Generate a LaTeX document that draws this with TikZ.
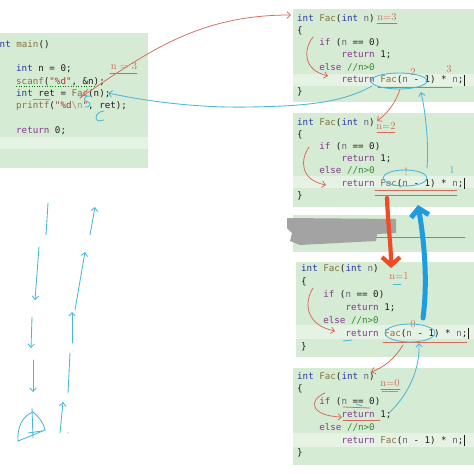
\documentclass[tikz,border=0pt]{standalone}
\usepackage{fontspec}
\usetikzlibrary{arrows.meta}
\newfontfamily\codefont{DejaVu Sans Mono}
\definecolor{boxg}{HTML}{D6EBD3}
\definecolor{bandg}{HTML}{E6F3E4}
\definecolor{kint}{HTML}{2B38A0}
\definecolor{kctl}{HTML}{823A8E}
\definecolor{fnc}{HTML}{857248}
\definecolor{prm}{HTML}{686878}
\definecolor{txt}{HTML}{1E1E1E}
\definecolor{cmt}{HTML}{3A853A}
\definecolor{strc}{HTML}{A33B35}
\definecolor{esc}{HTML}{9A9A7A}
\definecolor{pen}{HTML}{D46A5C}
\definecolor{cy}{HTML}{4CB6D6}
\definecolor{thr}{HTML}{EE4B26}
\definecolor{thb}{HTML}{1E9CE0}
\definecolor{scrib}{HTML}{A3A3A3}
\newcommand\Kt[1]{\textcolor{kint}{#1}}
\newcommand\Kc[1]{\textcolor{kctl}{#1}}
\newcommand\Fn[1]{\textcolor{fnc}{#1}}
\newcommand\Pn[1]{\textcolor{prm}{#1}}
\newcommand\Cm[1]{\textcolor{cmt}{#1}}
\newcommand\Sq[1]{\textcolor{strc}{#1}}
\newcommand\Es[1]{\textcolor{esc}{#1}}
\newcommand\cwd{5.54}
\tikzset{
  code/.style={anchor=base west, inner sep=0pt, font=\codefont\fontsize{9.2}{11}\selectfont, text=txt},
  hand/.style={inner sep=0pt, font=\fontsize{10.5}{11}\selectfont},
  penline/.style={pen, line width=0.75, line cap=round},
  cyline/.style={cy, line width=0.85, line cap=round},
  barb/.style={-{Straight Barb[length=3.5pt,width=6.5pt]}},
}
\newcommand\facbox[4]{%
 \node[code] (#4a) at ({#1},{#2+3}) {\Kt{int} \Fn{Fac}(\Kt{int} \Pn{n})};
 \node[code] (#4b) at ({#1},{#2+#3+3}) {\{};
 \node[code] (#4c) at ({#1+4*\cwd},{#2+2*#3+3}) {\Kc{if} (\Pn{n} == 0)};
 \node[code] (#4d) at ({#1+8*\cwd},{#2+3*#3+3}) {\Kc{return} 1;};
 \node[code] (#4e) at ({#1+4*\cwd},{#2+4*#3+3}) {\Kc{else} \Cm{//n>0}};
 \node[code] (#4f) at ({#1+8*\cwd},{#2+5*#3+3}) {\Kc{return} \Fn{Fac}(\Pn{n} - 1) * \Pn{n};};
 \node[code] (#4g) at ({#1},{#2+6*#3+3}) {\}};
 \draw[txt, line width=0.6] ({#1+30*\cwd+1},{#2+5*#3-5}) -- ++(0,11);
}
\begin{document}
\begin{tikzpicture}[x=1pt,y=-1pt]
\useasboundingbox (0,0) rectangle (474,474);
\clip (0,0) rectangle (474,474);
\fill[white] (0,0) rectangle (474,474);
% ---------- main box
\fill[boxg] (0,33) rectangle (148,168);
\fill[bandg] (0,137) rectangle (148,149);
\node[code] (m0) at (-6,47) {\Kt{int} \Fn{main}()};
\node[code] (m2) at (16,71) {\Kt{int} n = 0;};
\node[code] (m3) at (16,84) {\Fn{scanf}(\Sq{"\%d"}, \&n);};
\node[code] (m4) at (16,96) {\Kt{int} ret = \Fn{Fac}(n);};
\node[code] (m5) at (16,108) {\Fn{printf}(\Sq{"\%d}\Es{\textbackslash n}\Sq{"}, ret);};
\node[code] (m6) at (16,133) {\Kc{return} 0;};
\draw[green!50!black, dotted, line width=0.6] (16,86.5) -- (96,86.5);
% ---------- Fac boxes
\fill[boxg] (293,9) rectangle (474,102);
\fill[bandg] (293,74) rectangle (474,86);
\facbox{297}{18}{12.3}{fa}
\fill[boxg] (293,113) rectangle (474,207);
\fill[bandg] (293,176) rectangle (474,188);
\facbox{297}{122}{12.2}{fb}
\fill[boxg] (293,215) rectangle (474,252);
\fill[scrib] (287,218) -- (396,219) -- (396,233) -- (377,234) -- (376,241) -- (300,245) -- (290,241) -- (292,233) -- (287,228) -- cycle;
\draw[penline, line width=0.5] (376,237) -- (465,237);
\fill[boxg] (296,262) rectangle (474,357);
\fill[bandg] (296,325) rectangle (474,339);
\facbox{301}{268}{13}{fc}
\fill[boxg] (293,368) rectangle (474,465);
\fill[bandg] (293,433) rectangle (474,447);
\facbox{297}{376}{12.8}{fd}
% ---------- n = k labels
\node[hand, text=pen] (l3) at (124,66) {n = 3};
\draw[penline] (110,73) -- (137,73);
\node[hand, text=pen] (l3b) at (387,17) {n=3};
\draw[penline] (377,23.5) -- (397,23.5);
\node[hand, text=pen] (l2) at (386,126) {n=2};
\draw[penline] (377,132) -- (395,132);
\node[hand, text=pen] (l1) at (399,276) {n=1};
\draw[cyline] (393,284) -- (401,284);
\node[hand, text=pen] (l0) at (390,383) {n=0};
\draw[penline] (381,389) -- (400,389);
\draw[cyline] (382,391) -- (398,391);
% small digits
\node[hand, text=pen] (d2) at (413,72) {2};
\node[hand, text=pen] (d3) at (449,69) {3};
\node[hand, text=pen] (d1) at (406,172) {!};
\node[hand, text=cy] (d1b) at (452,170) {1};
\node[hand, text=pen] (d0) at (413,324) {0};
% underlines
\draw[penline] (378,87.5) -- (452,87.5);
\draw[penline] (375,190) -- (457,190);
\draw[penline] (375,195) -- (457,195);
\draw[penline] (383,342) -- (467,342);
\draw[penline] (343,407) -- (370,408);
\draw[penline] (343,420) -- (380,420);
\draw[cyline] (33,99) -- (50,99);
\draw[cyline] (343,341) -- (352,340);
\draw[cyline] (356,404) -- (362,406);
% in-box red curved arrows
\draw[penline, barb] (313,37) .. controls (303,50) and (303,70) .. (328,76);
\draw[penline, barb] (309,147) .. controls (300,160) and (300,180) .. (326,185);
\draw[penline, barb] (313,288) .. controls (304,302) and (305,325) .. (335,331);
\draw[penline, barb] (325,393) .. controls (308,400) and (310,416) .. (342,417);
% ---------- connectors
\coordinate (cA) at (80,98);
\coordinate (cB) at (291,15);
\draw[penline, barb] (cA) .. controls (150,50) and (200,15) .. (cB);
\draw[cyline] (399,81) ellipse [x radius=28pt, y radius=8pt];
\coordinate (cC) at (372,86);
\coordinate (cD) at (108,93);
\draw[cyline, barb] (cC) .. controls (340,104) and (300,106) .. (250,107) .. controls (200,108) and (150,102) .. (cD);
\draw[cyline] (405,178) ellipse [x radius=22pt, y radius=8pt];
\coordinate (cE) at (427,168);
\coordinate (cF) at (421,92);
\draw[cyline, barb] (cE) .. controls (429,140) and (425,110) .. (cF);
\coordinate (cG) at (400,89);
\coordinate (cH) at (377,121);
\draw[penline, barb] (cG) .. controls (396,102) and (388,113) .. (cH);
\coordinate (cI) at (387,198);
\coordinate (cJ) at (391,268);
\draw[thr, line width=4.2, line cap=round, -{Straight Barb[length=8pt,width=18pt]}] (cI) .. controls (388,225) and (391,245) .. (cJ);
\draw[cyline] (410,333) ellipse [x radius=25pt, y radius=9pt];
\coordinate (cK) at (423,318);
\coordinate (cL) at (418,205);
\draw[thb, line width=5, line cap=round, -{Straight Barb[length=8pt,width=18pt]}] (cK) .. controls (428,280) and (424,240) .. (cL);
\coordinate (cM) at (403,345);
\coordinate (cN) at (371,372);
\draw[penline, barb] (cM) .. controls (395,358) and (385,367) .. (cN);
\coordinate (cO) at (389,413);
\coordinate (cP) at (419,343);
\draw[cyline, barb] (cO) .. controls (408,395) and (420,370) .. (cP);
% small cyan squiggles in main
\draw[cyline] (90,96) .. controls (84,95) and (82,101) .. (88,102) .. controls (92,103) and (90,108) .. (85,107);
\draw[cyline] (104,111) .. controls (96,112) and (94,118) .. (98,121) -- (104,120);
\draw[penline] (80,98) -- (88,89);
% ---------- left scribbles
\draw[cyline] (48,203) -- (46,235);
\draw[cyline, barb] (39,247) -- (35,300);
\draw[cyline, barb] (32,317) -- (31,348);
\draw[cyline, barb] (33,360) -- (33,392);
\draw[cyline] (18,441) .. controls (17,428) and (22,416) .. (33,412) .. controls (40,418) and (44,424) .. (45,430) -- cycle;
\draw[cyline] (32,408) -- (33,438);
\draw[cyline] (28,433) -- (42,431);
\draw[cyline, barb] (60,433) -- (63,402);
\fill[cy] (68,433) circle [radius=0.7pt];
\draw[cyline] (68,393) -- (70,353);
\draw[cyline, barb] (72,343) -- (72,312);
\draw[cyline, barb] (75,310) -- (85,252);
\draw[cyline, barb] (90,235) -- (95,207);
\end{tikzpicture}
\end{document}
